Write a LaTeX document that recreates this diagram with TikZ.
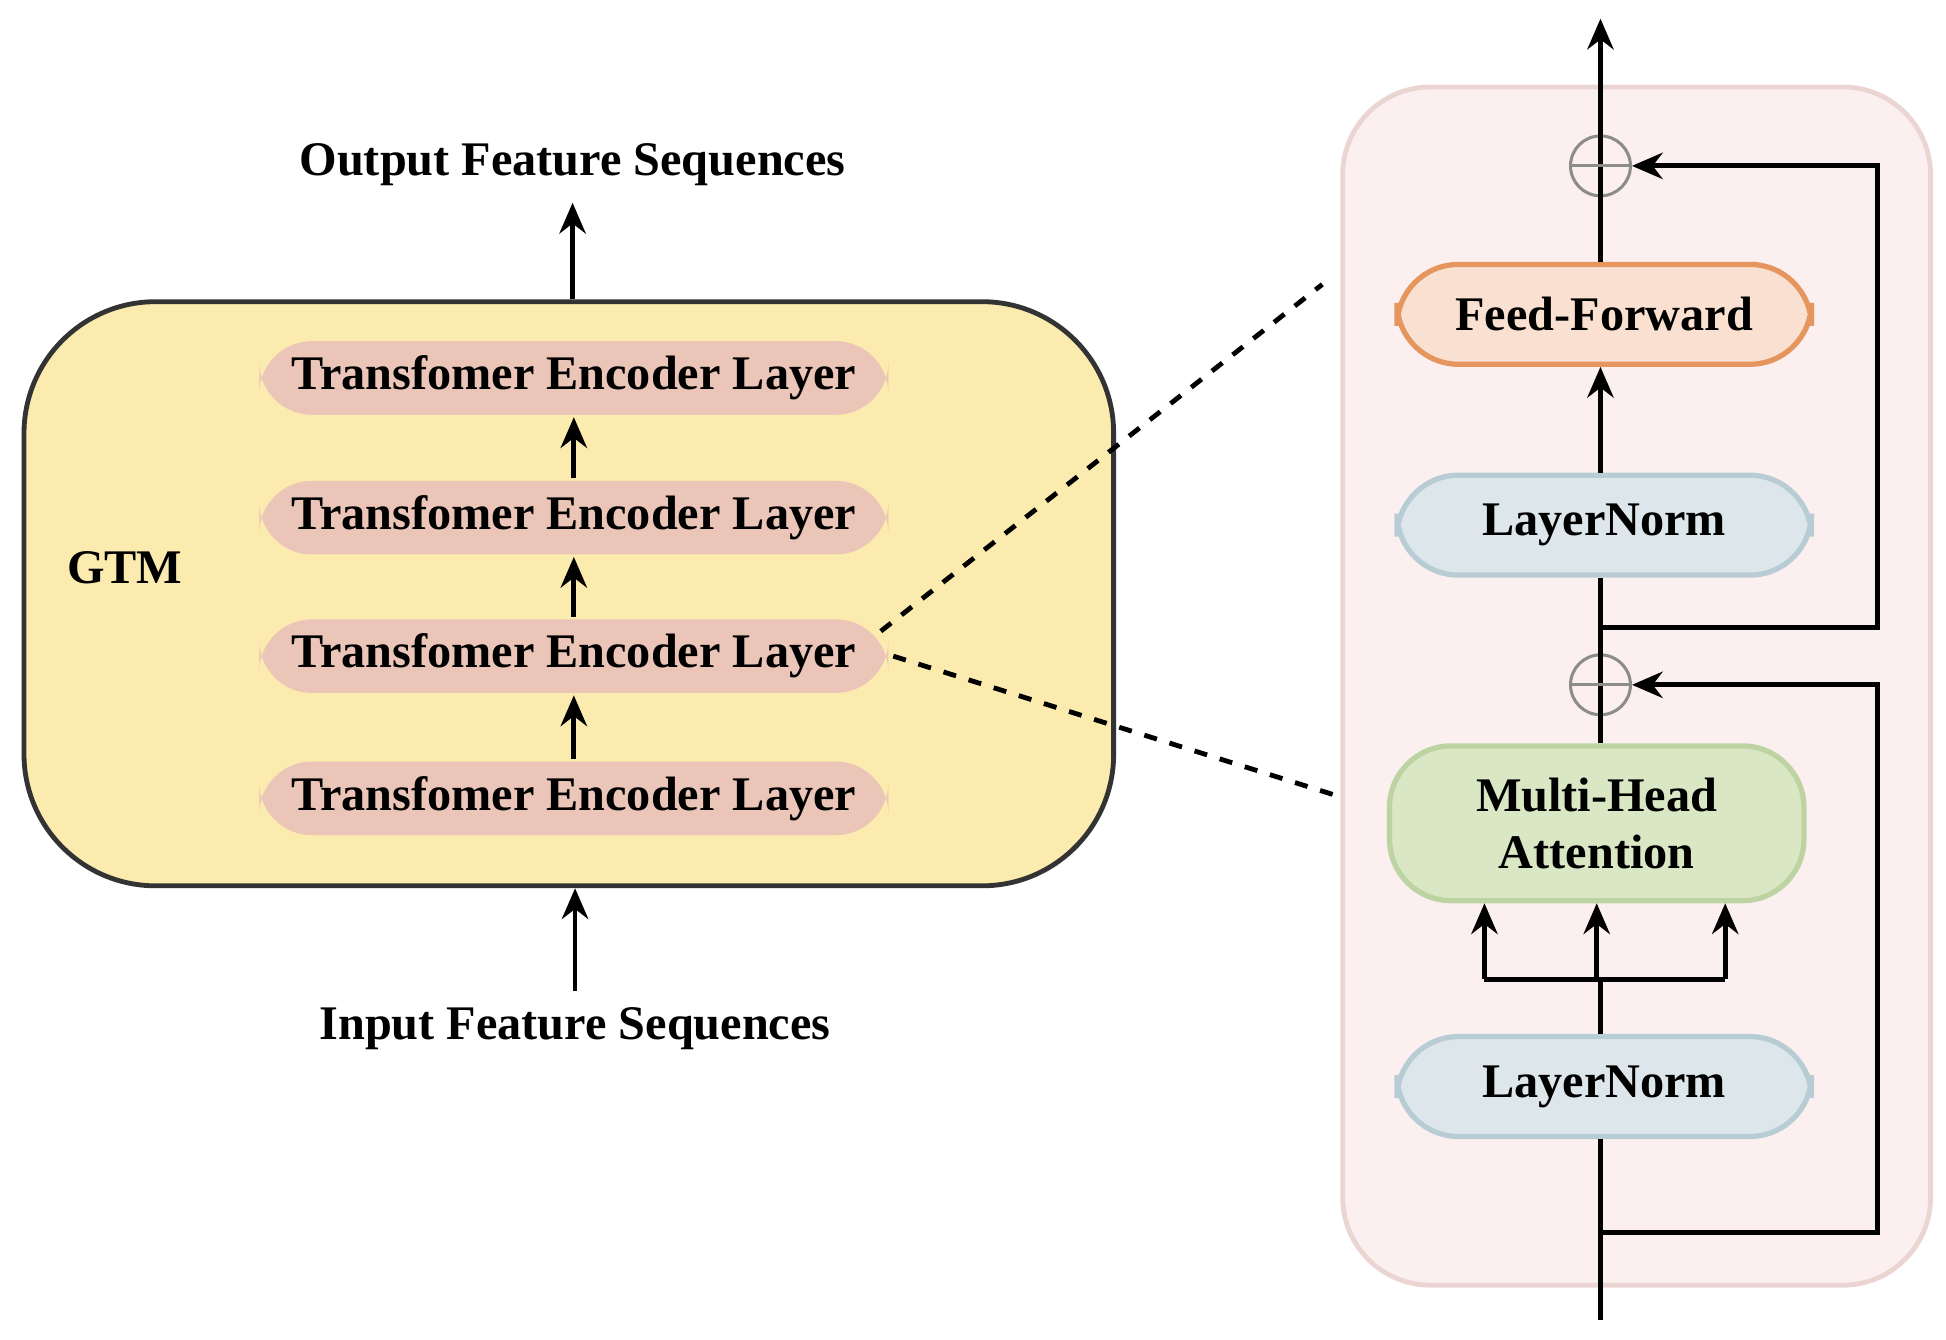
\documentclass[tikz,border=0pt]{standalone}
\usepackage{fontspec}
\setmainfont{Liberation Serif}
\usetikzlibrary{arrows.meta,positioning}
\definecolor{gtmfill}{HTML}{FCEBAE}
\definecolor{layerfill}{HTML}{EBC5B8}
\definecolor{panelfill}{HTML}{FBF0EF}
\definecolor{paneldraw}{HTML}{EBD5D2}
\definecolor{fffill}{HTML}{F9E0D0}
\definecolor{ffdraw}{HTML}{E5965F}
\definecolor{lnfill}{HTML}{DDE7EB}
\definecolor{lndraw}{HTML}{B8CCD4}
\definecolor{mhafill}{HTML}{D9E7C5}
\definecolor{mhadraw}{HTML}{BDD4A2}
\begin{document}
\begin{tikzpicture}[x=0.01cm,y=-0.01cm,>={Stealth[length=7pt,width=6pt]},
                    line width=1.1pt,font=\fontsize{11}{13}\selectfont\bfseries,
                    enc node/.style={rounded corners=12pt,fill=layerfill,minimum width=5.04cm,minimum height=0.52cm},
                    blk node/.style={rounded corners=14pt,line width=1.2pt,minimum width=3.32cm,minimum height=0.8cm,align=center},
                    plus node/.style={circle,draw=black!45,line width=0.7pt,minimum size=0.48cm,inner sep=0pt}]
  \useasboundingbox (0,0) rectangle (1560,1074);

  % left part
  \node[draw=black!80,fill=gtmfill,rounded corners=30pt,minimum width=8.73cm,minimum height=4.68cm] (gtm) at (456,476) {};
  \node (gtmlabel) at (100,455) {GTM};
  \node[enc node] (enc1) at (460,640) {Transfomer Encoder Layer};
  \node[enc node] (enc2) at (460,526) {Transfomer Encoder Layer};
  \node[enc node] (enc3) at (460,415) {Transfomer Encoder Layer};
  \node[enc node] (enc4) at (460,303) {Transfomer Encoder Layer};
  \foreach \a/\b in {enc1/enc2,enc2/enc3,enc3/enc4}
    \draw[->] (\a) -- (\b);
  \node (out) at (459,132) {Output Feature Sequences};
  \node (in) at (461,825) {Input Feature Sequences};
  \draw[->] (gtm.north -| out) -- (out.south);
  \draw[->] (in.north) -- (gtm.south -| in);

  % right part
  \node[draw=paneldraw,fill=panelfill,rounded corners=20pt,minimum width=4.71cm,minimum height=9.6cm] (panel) at (1312,550) {};
  \node[blk node,draw=lndraw,fill=lnfill] (ln2) at (1286,871) {LayerNorm};
  \node[blk node,draw=mhadraw,fill=mhafill,minimum height=1.24cm] (mha) at (1280,660) {Multi-Head\\Attention};
  \node[plus node] (add1) at (1283,549) {};
  \node[blk node,draw=lndraw,fill=lnfill] (ln1) at (1286,421) {LayerNorm};
  \node[blk node,draw=ffdraw,fill=fffill] (ff) at (1286,252) {Feed-Forward};
  \node[plus node] (add2) at (1283,133) {};
  \coordinate (start) at (1283,1058);
  \coordinate (top) at (1283,15);
  \coordinate (res1) at (1283,988);
  \coordinate (res2) at (1283,503);
  \coordinate (split) at (1283,785);

  \draw (start) -- (ln2.south -| start);
  \draw (ln2.north -| start) -- (split);
  \draw (1190,785) -- (1383,785);
  \foreach \x in {1190,1280,1383}
    \draw[->] (\x,785) -- (mha.south -| \x,0);
  \draw (mha.north -| add1) -- (add1.center) -- (ln1.south -| add1);
  \draw[->] (ln1.north -| add1) -- (ff.south -| add1);
  \draw[->] (ff.north -| add2) -- (top);
  \draw[black!45,line width=0.7pt] (add1.west) -- (add1.east) (add2.west) -- (add2.east);
  \draw[->] (res1) -- (1505,988) -- (1505,549) -- (add1.east);
  \draw[->] (res2) -- (1505,503) -- (1505,133) -- (add2.east);

  % zoom lines
  \draw[dashed] (enc2.east) ++(-8,-20) -- (1060,228);
  \draw[dashed] (enc2.east) ++(2,0) -- (1072,638);
\end{tikzpicture}
\end{document}
